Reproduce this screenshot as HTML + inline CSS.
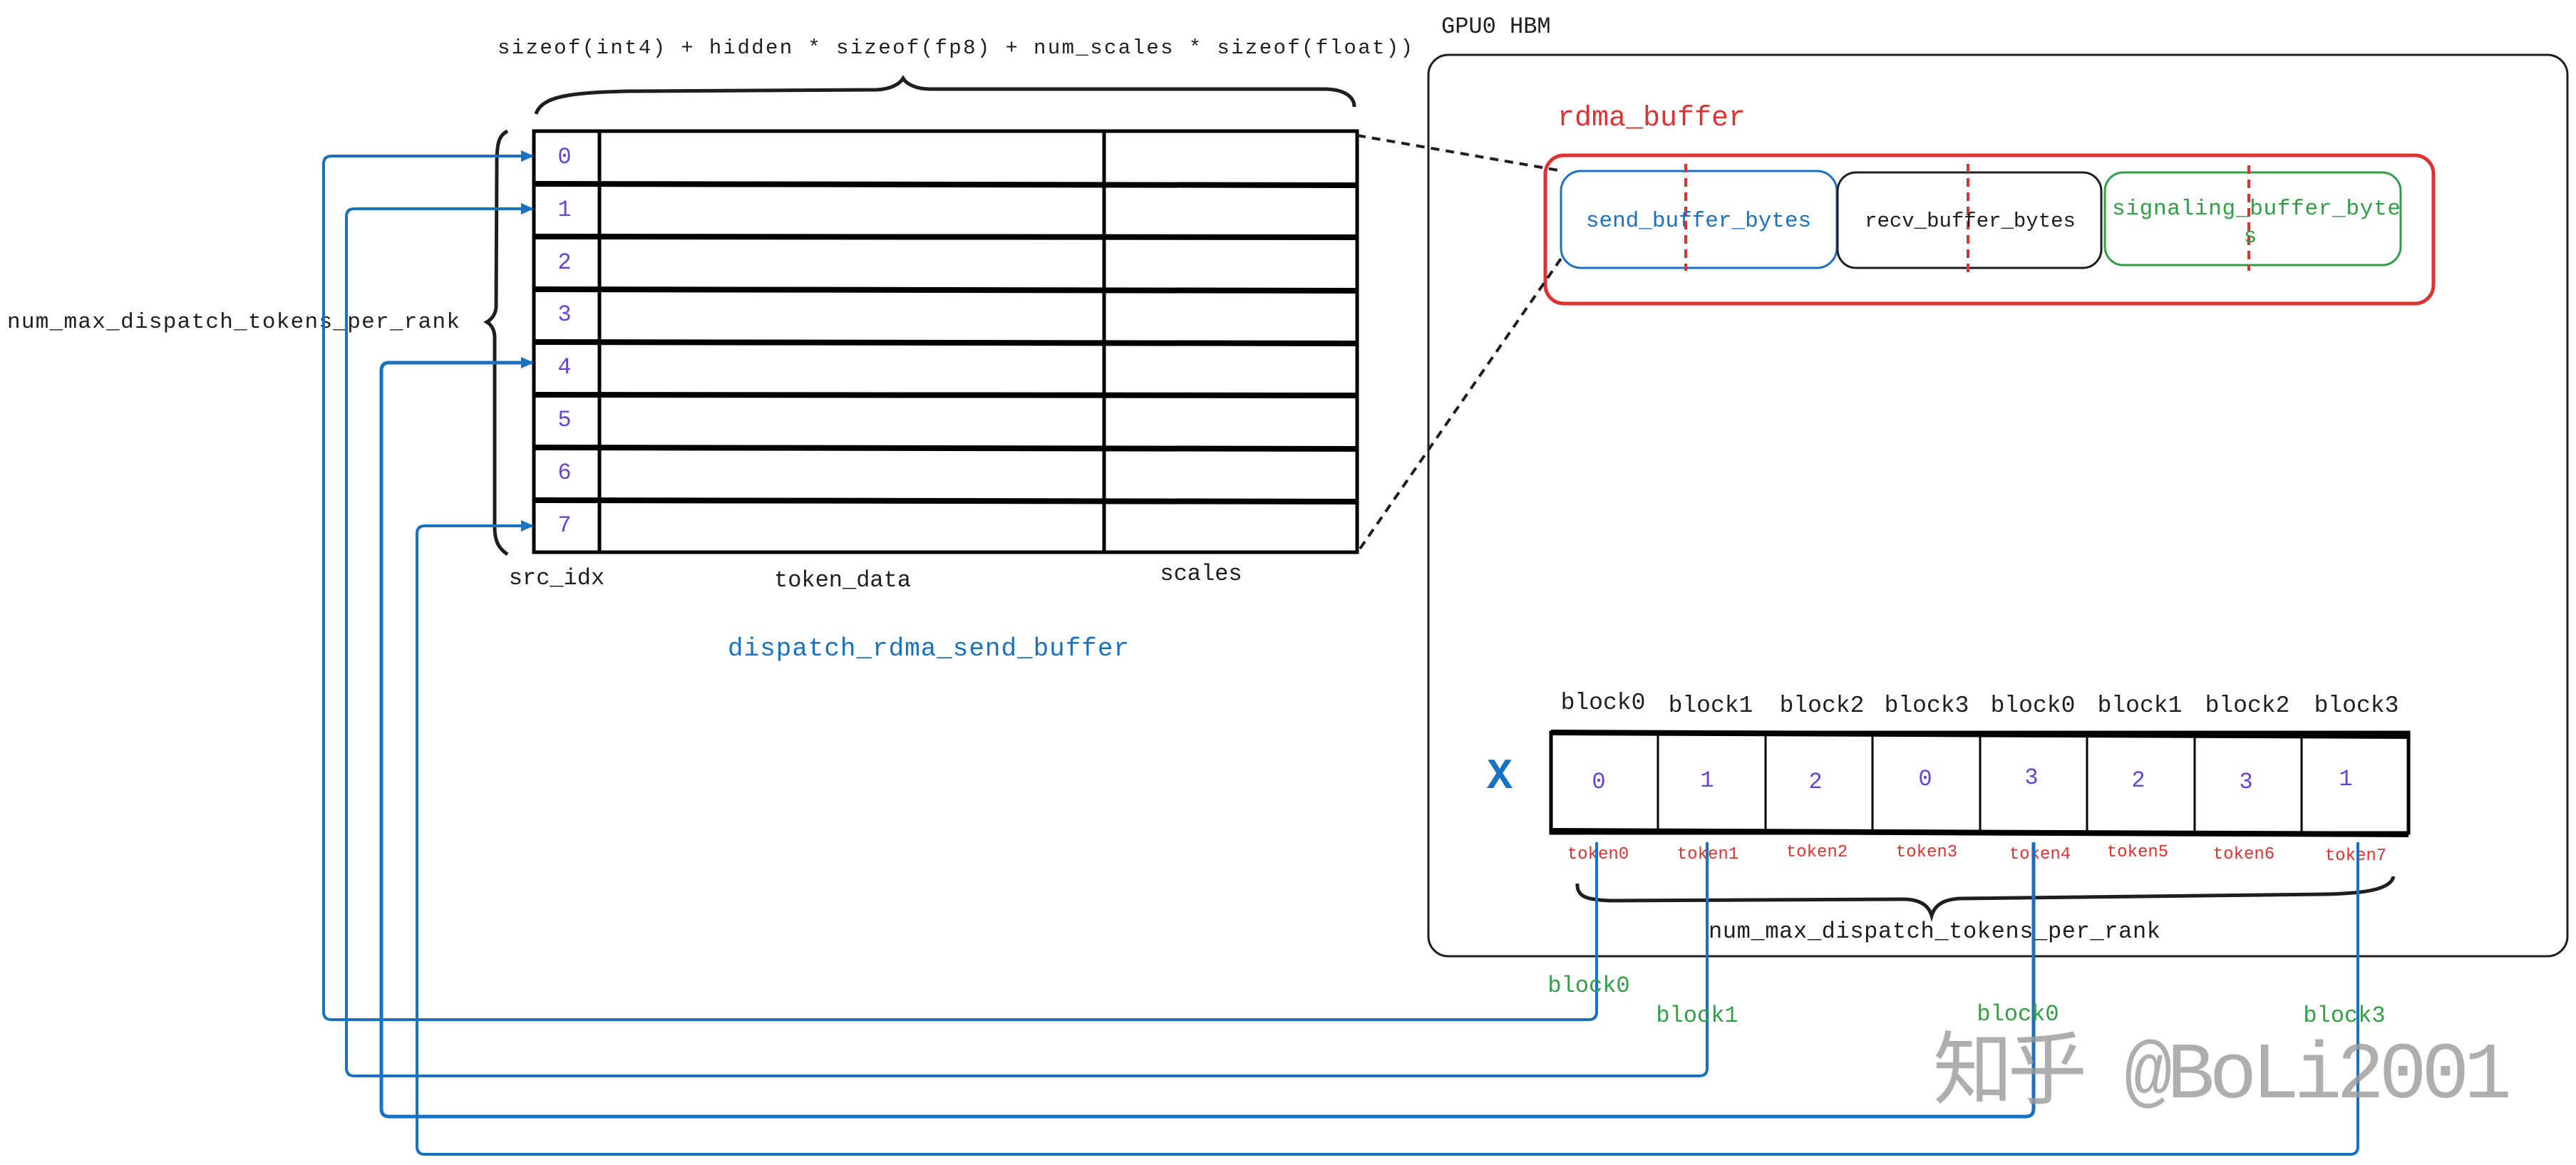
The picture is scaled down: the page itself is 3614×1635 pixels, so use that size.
<!DOCTYPE html>
<html><head><meta charset="utf-8"><style>
html,body{margin:0;padding:0;background:#fff;}
svg{display:block;}
text{font-family:"Liberation Mono","DejaVu Sans Mono",monospace;}
</style></head><body>
<svg width="3614" height="1635" viewBox="0 0 3614 1635" xmlns="http://www.w3.org/2000/svg">
<defs>
<marker id="ar" markerWidth="20" markerHeight="20" refX="16" refY="10" orient="auto" markerUnits="userSpaceOnUse" viewBox="0 0 20 20">
<path d="M0,2 L18,10 L0,18 z" fill="#1971c2"/>
</marker>
</defs>
<text x="698" y="75" font-size="29" textLength="1284" fill="#1e1e1e">sizeof(int4) + hidden * sizeof(fp8) + num_scales * sizeof(float))</text>
<path d="M752,160 C760,135 800,130 880,128 L1230,126 C1250,125 1262,118 1267,110 C1272,118 1285,125 1305,125 L1860,125 C1890,126 1900,138 1900,150" fill="none" stroke="#1e1e1e" stroke-width="5"/>
<path d="M712,184 C700,190 697,200 697,230 L696,430 C696,440 690,448 683,452 C690,456 694,464 694,474 L694,740 C694,760 700,770 712,778" fill="none" stroke="#1e1e1e" stroke-width="5"/>
<text x="10" y="460" font-size="31" textLength="635" fill="#1e1e1e">num_max_dispatch_tokens_per_rank</text>
<g stroke="#000" stroke-width="5" fill="none">
<rect x="749" y="184" width="1155" height="591"/>
<line x1="841" y1="184" x2="841" y2="775"/>
<line x1="1549" y1="184" x2="1549" y2="775"/>
<line x1="749" y1="258" x2="1904" y2="260" stroke-width="8"/>
<line x1="749" y1="332" x2="1904" y2="333" stroke-width="8"/>
<line x1="749" y1="406" x2="1904" y2="408" stroke-width="8"/>
<line x1="749" y1="480" x2="1904" y2="482" stroke-width="8"/>
<line x1="749" y1="554" x2="1904" y2="555" stroke-width="8"/>
<line x1="749" y1="628" x2="1904" y2="630" stroke-width="8"/>
<line x1="749" y1="702" x2="1904" y2="704" stroke-width="8"/>
</g>
<g fill="#6741d9" font-size="32" text-anchor="middle">
<text x="792" y="229">0</text><text x="792" y="303">1</text><text x="792" y="377">2</text><text x="792" y="450">3</text>
<text x="792" y="524">4</text><text x="792" y="598">5</text><text x="792" y="672">6</text><text x="792" y="746">7</text>
</g>
<g fill="#1e1e1e" font-size="32" text-anchor="middle">
<text x="781" y="820">src_idx</text>
<text x="1182" y="823">token_data</text>
<text x="1685" y="814">scales</text>
</g>
<text x="1021" y="920" font-size="36" textLength="563" fill="#1971c2">dispatch_rdma_send_buffer</text>
<text x="2022" y="46" font-size="32" fill="#1e1e1e">GPU0 HBM</text>
<rect x="2004" y="77" width="1598" height="1265" rx="28" fill="none" stroke="#1e1e1e" stroke-width="3"/>
<text x="2185" y="176" font-size="40" fill="#e03131">rdma_buffer</text>
<rect x="2168" y="218" width="1246" height="208" rx="26" fill="none" stroke="#e03131" stroke-width="5"/>
<rect x="2190" y="240" width="387" height="136" rx="28" fill="none" stroke="#1971c2" stroke-width="3"/>
<rect x="2578" y="242" width="370" height="134" rx="26" fill="none" stroke="#1e1e1e" stroke-width="3"/>
<rect x="2953" y="242" width="415" height="130" rx="26" fill="none" stroke="#2f9e44" stroke-width="3"/>
<g stroke="#e03131" stroke-width="4" stroke-dasharray="12,8">
<line x1="2365" y1="230" x2="2365" y2="380"/>
<line x1="2761" y1="230" x2="2761" y2="382"/>
<line x1="3155" y1="232" x2="3155" y2="380"/>
</g>
<text x="2383" y="318" font-size="31" text-anchor="middle" fill="#1971c2">send_buffer_bytes</text>
<text x="2764" y="318" font-size="29" text-anchor="middle" fill="#1e1e1e">recv_buffer_bytes</text>
<text x="2963" y="301" font-size="31" textLength="405" fill="#2f9e44">signaling_buffer_byte</text>
<text x="3157" y="340" font-size="31" text-anchor="middle" fill="#2f9e44">s</text>
<g stroke="#1e1e1e" stroke-width="4" stroke-dasharray="12,9" fill="none">
<line x1="1904" y1="190" x2="2192" y2="240"/>
<line x1="1908" y1="770" x2="2192" y2="360"/>
</g>
<g fill="#1e1e1e" font-size="33" text-anchor="middle">
<text x="2249" y="995">block0</text><text x="2400" y="999">block1</text><text x="2556" y="999">block2</text><text x="2703" y="999">block3</text>
<text x="2852" y="999">block0</text><text x="3002" y="999">block1</text><text x="3153" y="999">block2</text><text x="3306" y="999">block3</text>
</g>
<g stroke="#000" fill="none">
<rect x="2176" y="1028" width="1203" height="141" stroke-width="5"/>
<line x1="2326" y1="1028" x2="2326" y2="1169" stroke-width="3"/>
<line x1="2477" y1="1028" x2="2477" y2="1169" stroke-width="3"/>
<line x1="2627" y1="1028" x2="2627" y2="1169" stroke-width="3"/>
<line x1="2778" y1="1028" x2="2778" y2="1169" stroke-width="3"/>
<line x1="2928" y1="1028" x2="2928" y2="1169" stroke-width="3"/>
<line x1="3079" y1="1028" x2="3079" y2="1169" stroke-width="3"/>
<line x1="3229" y1="1028" x2="3229" y2="1169" stroke-width="3"/>
<line x1="2176" y1="1028" x2="3379" y2="1033" stroke-width="8"/>
<line x1="2176" y1="1166" x2="3379" y2="1171" stroke-width="8"/>
</g>
<g fill="#6741d9" font-size="32" text-anchor="middle">
<text x="2243" y="1106">0</text><text x="2395" y="1104">1</text><text x="2547" y="1106">2</text><text x="2701" y="1102">0</text>
<text x="2850" y="1100">3</text><text x="3000" y="1104">2</text><text x="3151" y="1106">3</text><text x="3291" y="1102">1</text>
</g>
<text x="2104" y="1106" font-size="60" text-anchor="middle" fill="#1971c2" font-weight="bold" font-family="Liberation Sans, sans-serif">X</text>
<g fill="#e03131" font-size="24" text-anchor="middle">
<text x="2242" y="1205">token0</text><text x="2396" y="1205">token1</text><text x="2549" y="1202">token2</text><text x="2703" y="1202">token3</text>
<text x="2862" y="1205">token4</text><text x="2999" y="1202">token5</text><text x="3148" y="1205">token6</text><text x="3305" y="1207">token7</text>
</g>
<path d="M2213,1240 C2212,1258 2225,1263 2260,1264 L2670,1262 C2690,1262 2705,1268 2710,1285 C2715,1268 2730,1262 2750,1261 L3260,1255 C3330,1254 3355,1245 3358,1230" fill="none" stroke="#1e1e1e" stroke-width="5"/>
<text x="2714" y="1316" font-size="32" textLength="634" text-anchor="middle" fill="#1e1e1e">num_max_dispatch_tokens_per_rank</text>
<g stroke="#1971c2" stroke-width="4" fill="none">
<path d="M2240,1182 L2240,1420 Q2240,1431 2229,1431 L465,1431 Q454,1431 454,1420 L454,230 Q454,219 465,219 L747,219" marker-end="url(#ar)"/>
<path d="M2395,1182 L2395,1499 Q2395,1510 2384,1510 L497,1510 Q486,1510 486,1499 L486,304 Q486,293 497,293 L747,293" marker-end="url(#ar)"/>
<path d="M2853,1182 L2853,1556 Q2853,1567 2842,1567 L546,1567 Q535,1567 535,1556 L535,520 Q535,509 546,509 L747,509" marker-end="url(#ar)" stroke-width="5"/>
<path d="M3308,1182 L3308,1609 Q3308,1620 3297,1620 L596,1620 Q585,1620 585,1609 L585,749 Q585,738 596,738 L747,738" marker-end="url(#ar)"/>
</g>
<g fill="#2f9e44" font-size="32" text-anchor="middle">
<text x="2229" y="1392">block0</text><text x="2381" y="1434">block1</text><text x="2831" y="1432">block0</text><text x="3289" y="1434">block3</text>
</g>
<text x="2712" y="1540" font-size="112" fill="#9a9a9a" fill-opacity="0.8" font-family="Liberation Sans, Noto Sans CJK SC, sans-serif" textLength="812">知乎 @BoLi2001</text>
</svg>
</body></html>
